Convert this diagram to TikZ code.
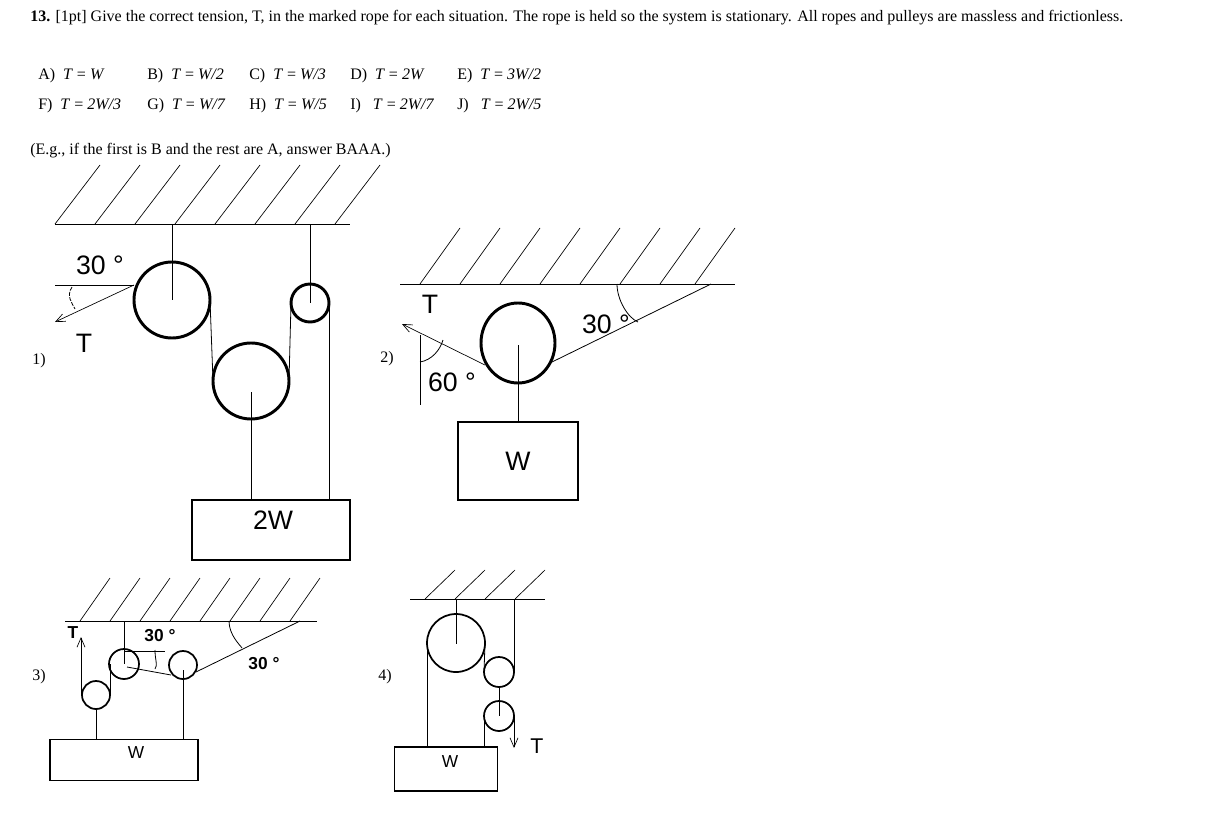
\documentclass[tikz,border=0pt]{standalone}
\usepackage{fontspec}
\setmainfont{Liberation Serif}
\newfontfamily\lab{Liberation Sans}
\usetikzlibrary{arrows.meta}
\newcommand{\tq}[1]{\textit{T}\ =\ \textit{#1}}
\begin{document}
\begin{tikzpicture}[x=0.75pt,y=-0.75pt,
 txt/.style={anchor=base west,inner sep=0,font=\fontsize{12}{14}\selectfont},
 lbl/.style={inner sep=0,font=\lab\fontsize{20}{24}\selectfont},
 slbl/.style={inner sep=0,font=\lab\fontsize{13}{15}\selectfont},
 pul/.style={line width=2.2pt},
 spul/.style={line width=1.3pt},
 rope/.style={line width=0.6pt},
 hatch/.style={line width=0.5pt},
 box/.style={draw,line width=2pt},
 sbox/.style={draw,line width=1.3pt},
 arr/.style={-{Straight Barb[length=7pt,width=6pt]},line width=0.5pt}]
\useasboundingbox (0,0) rectangle (1212,813);
% header text
\node[txt] (h) at (30,22) {\textbf{13.} [1pt] Give the correct tension, T, in the marked rope for each situation. The rope is held so the system is stationary. All ropes and pulleys are massless and frictionless.};
\node[txt] (oa) at (38,80) {A)\ \ \tq{W}};
\node[txt] (ob) at (147,80) {B)\ \ \tq{W/2}};
\node[txt] (oc) at (249,80) {C)\ \ \tq{W/3}};
\node[txt] (od) at (350,80) {D)\ \ \tq{2W}};
\node[txt] (oe) at (457,80) {E)\ \ \tq{3W/2}};
\node[txt] (of) at (38,110) {F)\ \ \tq{2W/3}};
\node[txt] (og) at (147,110) {G)\ \ \tq{W/7}};
\node[txt] (oh) at (249,110) {H)\ \ \tq{W/5}};
\node[txt] (oi) at (350,110) {I)\ \ \ \tq{2W/7}};
\node[txt] (oj) at (457,110) {J)\ \ \ \tq{2W/5}};
\node[txt] (eg) at (30,155) {(E.g., if the first is B and the rest are A, answer BAAA.)};
% ---------- diagram 1
\draw[hatch] (55,224) -- (350,224);
\foreach \x in {55,95,135,175,215,255,295,335} \draw[hatch] (\x,224) -- (\x+45,165);
\coordinate (A) at (172,300); \coordinate (B) at (251,381); \coordinate (C) at (310,303);
\draw[pul] (A) circle[radius=38]; \draw[pul] (B) circle[radius=38]; \draw[pul] (C) circle[radius=19];
\draw[rope] (172,224) -- (A); \draw[rope] (310,224) -- (C);
\draw[rope] (210,300) -- (213,381); \draw[rope] (289,381) -- (291,303);
\draw[rope] (329,303) -- (329,500);
\draw[rope] (251,392) -- (251,500);
\draw[rope] (55,285) -- (134,285);
\draw[arr] (134,285) -- (55,322);
\draw[rope,dashed,dash pattern=on 3pt off 1pt] (72,287) .. controls (66,296) and (72,303) .. (75,309);
\node[box,minimum width=158*0.75pt,minimum height=60*0.75pt] (b1) at (271,530) {};
\node[lbl] at (273,520) {2W};
\node[lbl] at (100,265) {30 °};
\node[lbl] at (84,343) {T};
\node[txt] at (32,364) {1)};
% ---------- diagram 2
\draw[hatch] (400,284) -- (735,284);
\foreach \x in {420,460,500,540,580,620,660,695} \draw[hatch] (\x,284) -- (\x+40,228);
\coordinate (P) at (518,343);
\draw[pul] (P) ellipse[x radius=37,y radius=40];
\draw[rope] (518,345) -- (518,422);
\draw[arr] (485,365) -- (402,324);
\draw[rope] (552,362) -- (711,284);
\draw[rope] (420,335) -- (420,405);
\draw[rope] (420,362) .. controls (432,360) and (440,350) .. (443,340);
\draw[rope] (617,284) .. controls (617,300) and (628,318) .. (638,322);
\node[box,minimum width=120*0.75pt,minimum height=78*0.75pt] (b2) at (518,461) {};
\node[lbl] at (518,461) {W};
\node[lbl] at (430,304) {T};
\node[lbl] at (606,324) {30 °};
\node[lbl] at (452,382) {60 °};
\node[txt] at (380,362) {2)};
% ---------- diagram 3
\draw[hatch] (65,621) -- (317,621);
\foreach \x in {80,110,140,170,200,230,260,290} \draw[hatch] (\x,621) -- (\x+30,578);
\coordinate (Q1) at (96,695); \coordinate (Q2) at (124,664); \coordinate (Q3) at (183,665);
\draw[spul] (Q1) circle[radius=14]; \draw[spul] (Q2) circle[radius=15]; \draw[spul] (Q3) circle[radius=14];
\draw[arr] (81,695) -- (81,637);
\draw[rope] (110,695) -- (110,664);
\draw[rope] (124,621) -- (Q2);
\draw[rope] (124,651) -- (165,651);
\draw[rope] (127,667) -- (171,675);
\draw[rope] (196,672) -- (300,621);
\draw[rope] (155,650) .. controls (155,660) and (158,665) .. (155,669);
\draw[rope] (229,621) .. controls (229,635) and (240,645) .. (242,648);
\draw[rope] (96,709) -- (96,740);
\draw[rope] (183,670) -- (183,740);
\node[sbox,minimum width=148*0.75pt,minimum height=41*0.75pt] (b3) at (124,760) {};
\node[slbl] at (136,753) {W};
\node[slbl,font=\lab\bfseries\fontsize{13}{15}\selectfont] at (73,633) {T};
\node[slbl,font=\lab\bfseries\fontsize{13}{15}\selectfont] at (160,636) {30 °};
\node[slbl,font=\lab\bfseries\fontsize{13}{15}\selectfont] at (264,664) {30 °};
\node[txt] at (32,680) {3)};
% ---------- diagram 4
\draw[hatch] (410,599) -- (545,599);
\foreach \x in {425,455,485,515} \draw[hatch] (\x,599) -- (\x+30,570);
\coordinate (R1) at (456,643); \coordinate (R2) at (499,672); \coordinate (R3) at (499,716);
\draw[spul] (R1) circle[radius=29]; \draw[spul] (R2) circle[radius=15]; \draw[spul] (R3) circle[radius=15];
\draw[rope] (456,599) -- (456,644);
\draw[rope] (427,643) -- (427,747);
\draw[rope] (485,643) -- (484,672);
\draw[rope] (514,672) -- (514,599);
\draw[rope] (499,687) -- (499,716);
\draw[rope] (484,716) -- (484,747);
\draw[arr] (514,716) -- (514,748);
\node[sbox,minimum width=103*0.75pt,minimum height=44*0.75pt] (b4) at (446,769) {};
\node[slbl] at (450,762) {W};
\node[lbl,font=\lab\fontsize{16}{18}\selectfont] at (537,746) {T};
\node[txt] at (378,680) {4)};
\end{tikzpicture}
\end{document}
